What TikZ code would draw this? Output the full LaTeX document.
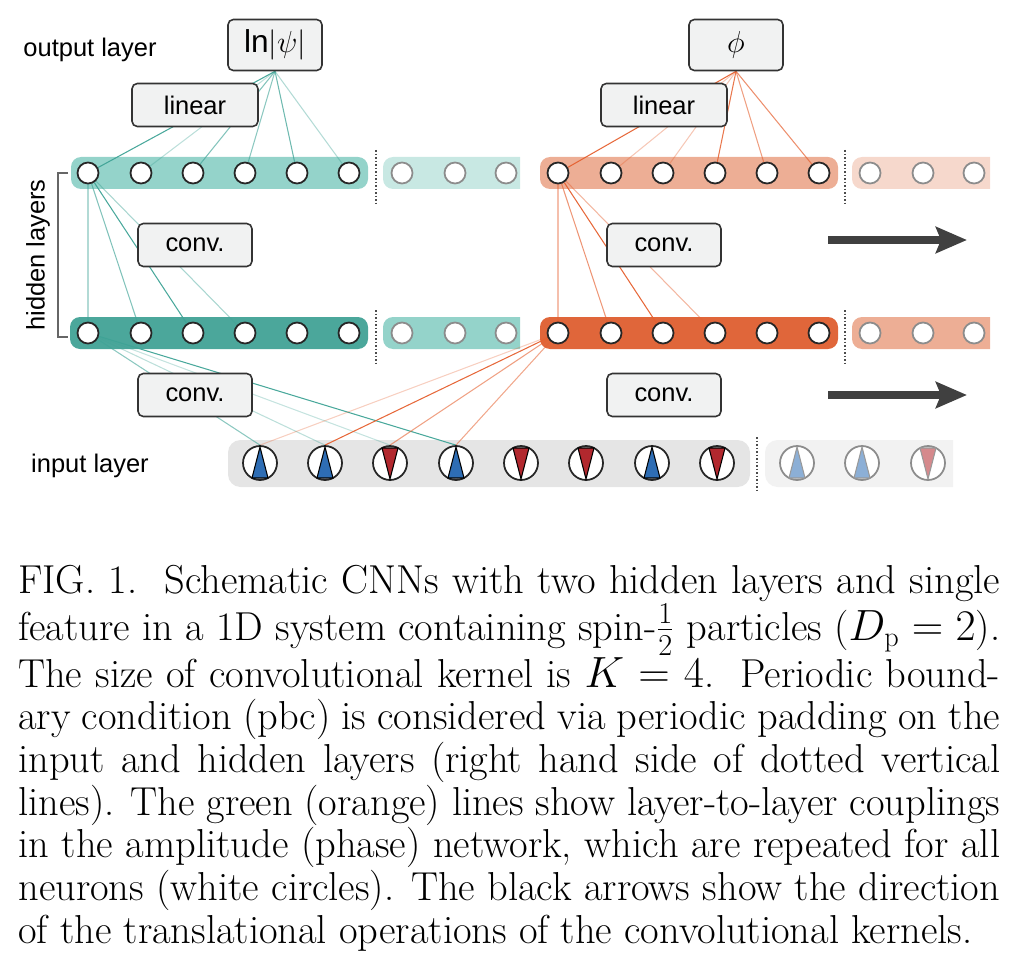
\documentclass[tikz,border=0pt]{standalone}
\usepackage{fontspec}
\setsansfont{Liberation Sans}
\usetikzlibrary{calc, arrows.meta, positioning}
\usepackage{xcolor}
\definecolor{gbar}{HTML}{94D3CA}
\definecolor{gpad}{HTML}{C8E8E3}
\definecolor{gdark}{HTML}{4BA79B}
\definecolor{obar}{HTML}{EDAE95}
\definecolor{opad}{HTML}{F6D8CC}
\definecolor{odark}{HTML}{E0663A}
\definecolor{gline}{HTML}{3FA396}
\definecolor{oline}{HTML}{E5602F}
\definecolor{boxfill}{HTML}{F1F2F2}
\definecolor{spinup}{HTML}{2E6DB4}
\definecolor{spindn}{HTML}{B2282E}
\pgfdeclarelayer{bars}
\pgfdeclarelayer{links}
\pgfsetlayers{bars,links,main}

\begin{document}
\begin{tikzpicture}[x=0.02cm, y=-0.02cm, >=latex]
	\tikzstyle{neuron} = [draw=black!85, line width=1pt, circle, fill=white, minimum size=0.42cm, inner sep=0pt]
	\tikzstyle{ghost} = [neuron, draw=black!45]
	\tikzstyle{op} = [draw=black!80, line width=0.9pt, rounded corners=3pt, fill=boxfill, font=\sffamily\fontsize{14.5}{16}\selectfont, minimum width=2.28cm, minimum height=0.86cm]
	\tikzstyle{bar} = [rounded corners=0.2cm]
	\tikzstyle{glink} = [gline, line width=0.6pt]
	\tikzstyle{olink} = [oline, line width=0.6pt]
	\tikzstyle{label} = [font=\sffamily\fontsize{14.5}{16}\selectfont]
	\tikzstyle{pbc} = [densely dotted, line width=1pt, black!70]
	\tikzstyle{slide} = [line width=4pt, black!75, -{Stealth[length=0.62cm, width=0.52cm, inset=0.1cm]}]

	\useasboundingbox (0,0) rectangle (1020,956);

	% bars
	\begin{pgfonlayer}{bars}
		\fill[gbar, bar] (71,157) rectangle (368,189);
		\fill[gdark, bar] (70,317) rectangle (368,349);
		\fill[obar, bar] (540,157) rectangle (838,189);
		\fill[odark, bar] (540,317) rectangle (838,349);
		\fill[black!10, rounded corners=0.25cm] (228,440) rectangle (750,487);
		% padding, cut off on the right
		\begin{scope}
			\clip (380,150) rectangle (520,200) (849,150) rectangle (990,200);
			\fill[gpad, bar] (383,157) rectangle (560,189);
			\fill[opad, bar] (852,157) rectangle (1030,189);
		\end{scope}
		\begin{scope}
			\clip (380,310) rectangle (520,360) (849,310) rectangle (990,360);
			\fill[gbar, bar] (383,317) rectangle (560,349);
			\fill[obar, bar] (852,317) rectangle (1030,349);
		\end{scope}
		\begin{scope}
			\clip (760,430) rectangle (953,495);
			\fill[black!5, rounded corners=0.25cm] (765,440) rectangle (990,487);
		\end{scope}
	\end{pgfonlayer}

	% neurons
	\foreach \i/\x in {1/88,2/141,3/193,4/245,5/297,6/349} {
		\node[neuron] (g\i) at (\x,173) {};
		\node[neuron] (h\i) at (\x,333) {};
		\node[neuron] (o\i) at (\x+470,173) {};
		\node[neuron] (p\i) at (\x+470,333) {};
	}
	\foreach \i/\x in {1/402,2/455,3/506} {
		\node[ghost] (gp\i) at (\x,173) {};
		\node[ghost] (hp\i) at (\x,333) {};
		\node[ghost] (op\i) at (\x+468,173) {};
		\node[ghost] (pp\i) at (\x+468,333) {};
	}

	% spins
	\foreach \i/\x/\s in {1/260/1,2/325/1,3/390/-1,4/456/1,5/521/-1,6/586/-1,7/652/1,8/717/-1} {
		\node[neuron, minimum size=0.68cm] (s\i) at (\x,463) {};
		\ifnum\s=1
			\filldraw[fill=spinup, draw=black, line width=0.6pt] (\x,447) -- (\x+8,478) -- (\x-8,478) -- cycle;
		\else
			\filldraw[fill=spindn, draw=black, line width=0.6pt] (\x,479) -- (\x+8,448) -- (\x-8,448) -- cycle;
		\fi
	}
	\foreach \i/\x/\s in {1/797/1,2/862/1,3/928/-1} {
		\node[ghost, minimum size=0.68cm] (sp\i) at (\x,463) {};
		\ifnum\s=1
			\filldraw[fill=spinup!55, draw=black!40, line width=0.6pt] (\x,447) -- (\x+8,478) -- (\x-8,478) -- cycle;
		\else
			\filldraw[fill=spindn!55, draw=black!40, line width=0.6pt] (\x,479) -- (\x+8,448) -- (\x-8,448) -- cycle;
		\fi
	}

	% boxes
	\node[op, minimum width=1.88cm, minimum height=1.02cm, font=\sffamily\fontsize{18}{20}\selectfont] (psi) at (275,45) {ln$|\psi|$};
	\node[op, minimum width=1.88cm, minimum height=1.02cm, font=\fontsize{18}{20}\selectfont] (phi) at (736,45) {$\phi$};
	\node[op, minimum width=2.52cm] (lin1) at (195,105) {linear};
	\node[op, minimum width=2.52cm] (lin2) at (664,105) {linear};
	\node[op] (conv1) at (195,245) {conv.};
	\node[op] (conv2) at (195,395) {conv.};
	\node[op] (conv3) at (664,245) {conv.};
	\node[op] (conv4) at (664,395) {conv.};

	% couplings
	\begin{pgfonlayer}{links}
		\foreach \i/\a in {1/0.95,2/0.35,3/0.65,4/0.6,5/0.75,6/0.4} {
			\draw[glink, draw opacity=\a] (psi.south) -- (g\i);
		}
		\foreach \i/\a in {1/0.95,2/0.35,3/0.35,4/0.85,5/0.6,6/0.7} {
			\draw[olink, draw opacity=\a] (phi.south) -- (o\i);
		}
		\foreach \i/\a in {1/0.4,2/0.65,3/0.95,4/0.45} {
			\draw[glink, draw opacity=\a] (g1) -- (h\i);
			\draw[olink, draw opacity=\a] (o1) -- (p\i);
		}
		\foreach \i/\a in {1/0.6,2/0.35,3/0.3,4/0.95} {
			\draw[glink, draw opacity=\a] (h1) -- (s\i.north);
		}
		\foreach \i/\a in {1/0.3,2/0.95,3/0.6,4/0.55} {
			\draw[olink, draw opacity=\a] (p1) -- (s\i.north);
		}
	\end{pgfonlayer}

	% periodic padding
	\draw[pbc] (376,150) -- (376,203);
	\draw[pbc] (376,310) -- (376,363);
	\draw[pbc] (845,150) -- (845,203);
	\draw[pbc] (845,310) -- (845,363);
	\draw[pbc] (757,437) -- (757,490);

	% kernel shift
	\coordinate (a1) at (828,240);
	\coordinate (b1) at (967,240);
	\coordinate (a2) at (828,395);
	\coordinate (b2) at (967,395);
	\draw[slide] (a1) -- (b1);
	\draw[slide] (a2) -- (b2);

	% labels
	\node[label] (out) at (90,50) {output layer};
	\node[label] (inp) at (90,466) {input layer};
	\draw[black!60, line width=0.8pt] (68,173) -- (58,173) -- (58,337) -- (68,337);
	\node[label, rotate=90] (hid) at (38,255) {hidden layers};

	% caption
	\node[anchor=north west, inner sep=0pt, text width=19.64cm, align=justify, font=\fontsize{23}{24.3}\selectfont] (cap) at (18,565) {%
		FIG.~1.\ \ Schematic CNNs with two hidden layers and single\linebreak
		feature in a 1D system containing spin-$\frac{1}{2}$ particles ($D_{\rm p}=2$).\linebreak
		The size of convolutional kernel is $K=4$.\ \ Periodic bound-\linebreak
		ary condition (pbc) is considered via periodic padding on the\linebreak
		input and hidden layers (right hand side of dotted vertical\linebreak
		lines). The green (orange) lines show layer-to-layer couplings\linebreak
		in the amplitude (phase) network, which are repeated for all\linebreak
		neurons (white circles). The black arrows show the direction\linebreak
		of the translational operations of the convolutional kernels.\par};
\end{tikzpicture}
\end{document}
